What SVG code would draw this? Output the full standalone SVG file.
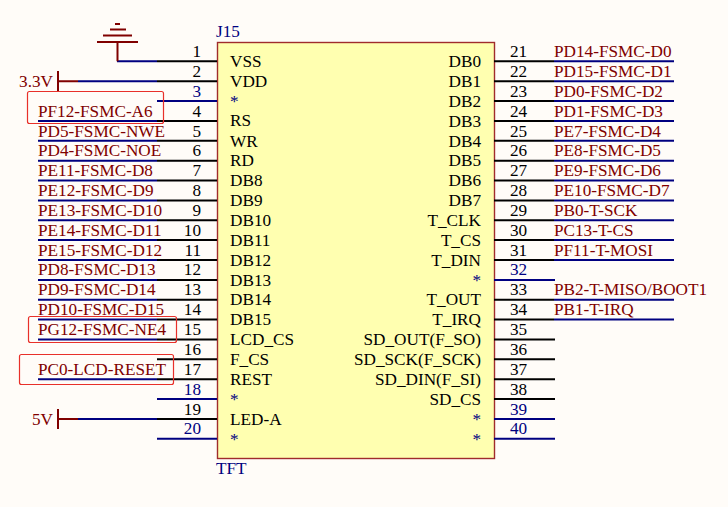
<svg xmlns="http://www.w3.org/2000/svg" width="728" height="507" viewBox="0 0 728 507">
<style>
text{font-family:"Liberation Serif","Times New Roman",serif;font-size:17.2px;fill:#000}
.b{fill:#000080}.r{fill:#800000}.e{text-anchor:end}
.k,.w,.d{fill:none;stroke-width:2}.k{stroke:#000}.w{stroke:#000080}.d{stroke:#800000}
.box{fill:none;stroke:#e8302a;stroke-width:1.2}
</style>
<rect width="728" height="507" fill="#fffcf8"/>
<g id="J15">
<rect x="217.5" y="42.5" width="277" height="416" fill="#ffffb0" stroke="#a02c2c" stroke-width="1.4"/>
<text x="216" y="37" class="b">J15</text>
<text x="216" y="474" class="b">TFT</text>
<g id="left-pin-names">
<text x="230" y="67">VSS</text><text x="230" y="87">VDD</text><text x="230" y="107" class="b">*</text><text x="230" y="126">RS</text><text x="230" y="147">WR</text><text x="230" y="166">RD</text><text x="230" y="186">DB8</text><text x="230" y="206">DB9</text><text x="230" y="226">DB10</text><text x="230" y="246">DB11</text><text x="230" y="266">DB12</text><text x="230" y="286">DB13</text><text x="230" y="305">DB14</text><text x="230" y="325">DB15</text><text x="230" y="345">LCD_CS</text><text x="230" y="365">F_CS</text><text x="230" y="385">REST</text><text x="230" y="405" class="b">*</text><text x="230" y="425">LED-A</text><text x="230" y="445" class="b">*</text>
</g>
<g id="right-pin-names" class="e">
<text x="481" y="67" class="e">DB0</text><text x="481" y="87" class="e">DB1</text><text x="481" y="107" class="e">DB2</text><text x="481" y="127" class="e">DB3</text><text x="481" y="147" class="e">DB4</text><text x="481" y="166" class="e">DB5</text><text x="481" y="186" class="e">DB6</text><text x="481" y="206" class="e">DB7</text><text x="481" y="226" class="e">T_CLK</text><text x="481" y="246" class="e">T_CS</text><text x="481" y="266" class="e">T_DIN</text><text x="481" y="286" class="e b">*</text><text x="481" y="305" class="e">T_OUT</text><text x="481" y="325" class="e">T_IRQ</text><text x="481" y="345" class="e">SD_OUT(F_SO)</text><text x="481" y="365" class="e">SD_SCK(F_SCK)</text><text x="481" y="385" class="e">SD_DIN(F_SI)</text><text x="481" y="405" class="e">SD_CS</text><text x="481" y="425" class="e b">*</text><text x="481" y="445" class="e b">*</text>
</g>
<g id="pin-numbers-left">
<text x="201" y="57" class="e">1</text><text x="201" y="77" class="e">2</text><text x="201" y="97" class="e b">3</text><text x="201" y="117" class="e">4</text><text x="201" y="137" class="e">5</text><text x="201" y="156" class="e">6</text><text x="201" y="176" class="e">7</text><text x="201" y="196" class="e">8</text><text x="201" y="216" class="e">9</text><text x="201" y="236" class="e">10</text><text x="201" y="256" class="e">11</text><text x="201" y="275" class="e">12</text><text x="201" y="295" class="e">13</text><text x="201" y="315" class="e">14</text><text x="201" y="335" class="e">15</text><text x="201" y="355" class="e">16</text><text x="201" y="375" class="e">17</text><text x="201" y="395" class="e b">18</text><text x="201" y="415" class="e">19</text><text x="201" y="434" class="e b">20</text>
</g>
<g id="pin-numbers-right">
<text x="510" y="57">21</text><text x="510" y="77">22</text><text x="510" y="97">23</text><text x="510" y="117">24</text><text x="510" y="137">25</text><text x="510" y="156">26</text><text x="510" y="176">27</text><text x="510" y="196">28</text><text x="510" y="216">29</text><text x="510" y="236">30</text><text x="510" y="256">31</text><text x="510" y="275" class="b">32</text><text x="510" y="295">33</text><text x="510" y="315">34</text><text x="510" y="335">35</text><text x="510" y="355">36</text><text x="510" y="375">37</text><text x="510" y="395">38</text><text x="510" y="415" class="b">39</text><text x="510" y="434" class="b">40</text>
</g>
</g>
<g id="connectors">
<path class="k" d="M157 61.3H217M157 81.2H217M157 120.9H217M157 140.8H217M157 160.7H217M157 180.5H217M157 200.4H217M157 220.3H217M157 240.1H217M157 260H217M157 279.9H217M157 299.7H217M157 319.6H217M157 339.5H217M157 359.3H217M157 379.2H217M157 418.9H217"/>
<path class="w" d="M157 101H217M157 399.1H217M157 438.8H217M494 279.9H555M494 418.9H555M494 438.8H555"/>
<path class="k" d="M494 61.3H554M494 81.2H554M494 101H554M494 120.9H554M494 140.8H554M494 160.7H554M494 180.5H554M494 200.4H554M494 220.3H554M494 240.1H554M494 260H554M494 299.7H554M494 319.6H554M494 339.5H555M494 359.3H555M494 379.2H555M494 399.1H555"/>
<path class="w" d="M117 61.3H157M78 81.2H157M78 418.9H157"/>
<path class="w" d="M38 120.9H157M38 140.8H157M38 160.7H157M38 180.5H157M38 200.4H157M38 220.3H157M38 240.1H157M38 260H157M38 279.9H157M38 299.7H157M38 319.6H157M38 339.5H157M38 379.2H157"/>
<path class="w" d="M554 61.3H674M554 81.2H674M554 101H674M554 120.9H674M554 140.8H674M554 160.7H674M554 180.5H674M554 200.4H674M554 220.3H674M554 240.1H674M554 260H674M554 299.7H674M554 319.6H674"/>
</g>
<g id="GND">
<path class="d" d="M117.500 42V61.300M97 42H138M103 35.500H132M110 29.500H126M115 24H120"/>
</g>
<g id="VCC33">
<path class="d" d="M58 71V91M58 81.200H78"/>
<text x="53" y="87" class="e r">3.3V</text>
</g>
<g id="VCC5">
<path class="d" d="M58 409V429M58 418.900H78"/>
<text x="53" y="425" class="e r">5V</text>
</g>
<g id="left-nets">
<text x="38" y="117" class="r">PF12-FSMC-A6</text><text x="38" y="137" class="r">PD5-FSMC-NWE</text><text x="38" y="156" class="r">PD4-FSMC-NOE</text><text x="38" y="176" class="r">PE11-FSMC-D8</text><text x="38" y="196" class="r">PE12-FSMC-D9</text><text x="38" y="216" class="r">PE13-FSMC-D10</text><text x="38" y="236" class="r">PE14-FSMC-D11</text><text x="38" y="256" class="r">PE15-FSMC-D12</text><text x="38" y="275" class="r">PD8-FSMC-D13</text><text x="38" y="295" class="r">PD9-FSMC-D14</text><text x="38" y="315" class="r">PD10-FSMC-D15</text><text x="38" y="335" class="r">PG12-FSMC-NE4</text><text x="38" y="375" class="r">PC0-LCD-RESET</text>
</g>
<g id="right-nets">
<text x="554" y="57" class="r">PD14-FSMC-D0</text><text x="554" y="77" class="r">PD15-FSMC-D1</text><text x="554" y="97" class="r">PD0-FSMC-D2</text><text x="554" y="117" class="r">PD1-FSMC-D3</text><text x="554" y="137" class="r">PE7-FSMC-D4</text><text x="554" y="156" class="r">PE8-FSMC-D5</text><text x="554" y="176" class="r">PE9-FSMC-D6</text><text x="554" y="196" class="r">PE10-FSMC-D7</text><text x="554" y="216" class="r">PB0-T-SCK</text><text x="554" y="236" class="r">PC13-T-CS</text><text x="554" y="256" class="r">PF11-T-MOSI</text><text x="554" y="295" class="r">PB2-T-MISO/BOOT1</text><text x="554" y="315" class="r">PB1-T-IRQ</text>
</g>
<g id="highlights">
<rect class="box" x="27.500" y="91.500" width="136" height="32" rx="2"/>
<rect class="box" x="28.500" y="316.500" width="148" height="26" rx="2"/>
<rect class="box" x="19.500" y="354.500" width="154" height="30" rx="2"/>
</g>
</svg>
